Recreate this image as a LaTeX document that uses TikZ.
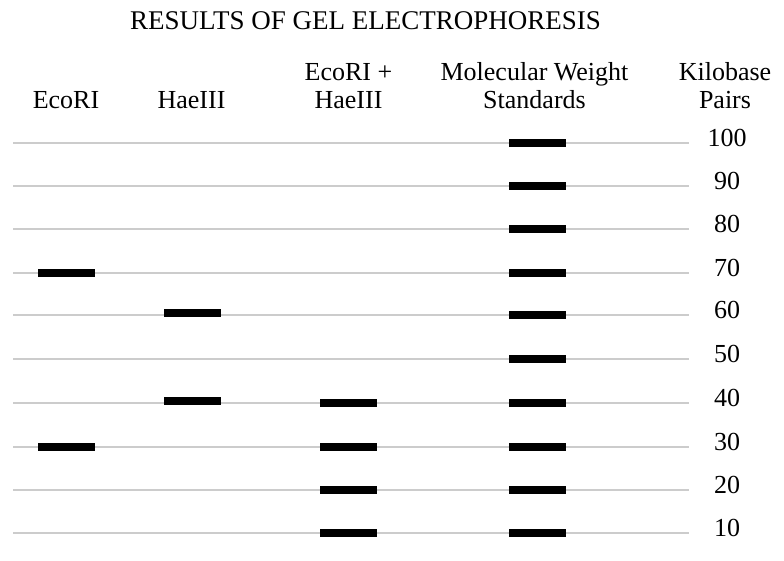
\documentclass[tikz,border=0pt]{standalone}
\usepackage{fontspec}
\setmainfont{Liberation Serif}
\tikzset{
	lane/.style={draw=black!20,line width=2pt},
	band/.style={fill,inner sep=0pt,minimum width=57pt,minimum height=8pt},
	head/.style={font=\fontsize{26}{28}\selectfont,anchor=base,inner sep=0pt},
	kbp/.style={font=\fontsize{26}{28}\selectfont,anchor=base,inner sep=0pt}
}
\begin{document}
\begin{tikzpicture}[x=1pt,y=-1pt]
	\useasboundingbox (0,0) rectangle (784,560);

	\node [head,font=\fontsize{27}{29}\selectfont] (title) at (365.5,29) {RESULTS OF GEL ELECTROPHORESIS};

	\node [head] (eco) at (66,108.5) {EcoRI};
	\node [head] (hae) at (191.5,108.5) {HaeIII};
	\node [head] (both1) at (348.5,80.5) {EcoRI +};
	\node [head] (both2) at (348.5,108.5) {HaeIII};
	\node [head] (mw1) at (534.5,80.5) {Molecular Weight};
	\node [head] (mw2) at (534.5,108.5) {Standards};
	\node [head] (kb1) at (725,80.5) {Kilobase};
	\node [head] (kb2) at (725,108.5) {Pairs};

	% rows of the gel, with the marker band in every row
	\foreach \k/\y in {10/142.7,9/186,8/229.3,7/272.7,6/314.7,5/359,4/402.7,3/446.7,2/490,1/533.3} {
		\coordinate (l\k) at (13,\y);
		\draw [lane] (l\k) -- ++(676,0);
		\node [kbp] (n\k) at (727,\y+3.5) {\k0};
		\node [band] (mw\k) at (537.5,\y) {};
	}

	\node [band] (eco70) at (66.5,272.7) {};
	\node [band] (eco30) at (66.5,446.7) {};

	\node [band] (hae60) at (192,313.2) {};
	\node [band] (hae40) at (192,401.2) {};

	\node [band] (both40) at (348.5,403.3) {};
	\node [band] (both30) at (348.5,446.7) {};
	\node [band] (both20) at (348.5,490) {};
	\node [band] (both10) at (348.5,533.3) {};
\end{tikzpicture}
\end{document}
